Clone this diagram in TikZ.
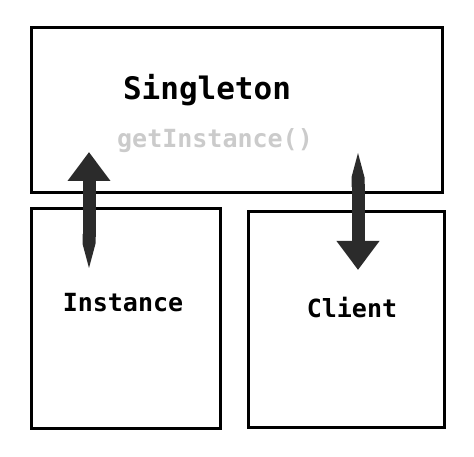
\documentclass[tikz,border=0pt]{standalone}
\usepackage{fontspec}
\setmonofont{DejaVu Sans Mono}
\usepackage{xcolor}
\usetikzlibrary{arrows.meta}
\definecolor{arrowgray}{HTML}{2B2B2B}
\definecolor{methodgray}{HTML}{CBCBCB}

\begin{document}
\begin{tikzpicture}[x=1pt,y=-1pt,
		box/.style={draw=black,line width=3pt,minimum width=#1},
		label/.style={font=\ttfamily\bfseries\fontsize{25}{25}\selectfont,anchor=base},
		flow/.style={arrowgray,line width=13pt,{Triangle Cap[cap angle=30]}-{Triangle[width=41pt,length=29pt]}}]
		\useasboundingbox (0,0) rectangle (474,457);
		% 绘制三个框
		\node[box=411pt,minimum height=165pt] (singleton) at (236.5,110.5) {};
		\node[box=189pt,minimum height=219pt] (instance) at (125.5,318.5) {};
		\node[box=196pt,minimum height=215pt] (client) at (346,319.5) {};
		% 绘制文字
		\node[label,font=\ttfamily\bfseries\fontsize{31}{31}\selectfont] (singletonname) at (207,100) {Singleton};
		\node[label,text=methodgray] (method) at (215,148) {getInstance()};
		\node[label] (instancename) at (123,311) {Instance};
		\node[label] (clientname) at (352,317) {Client};
		% 绘制箭头
		\coordinate (instancetail) at (89,268);
		\coordinate (instancetip) at (89,152);
		\coordinate (clienttail) at (358,153);
		\coordinate (clienttip) at (358,270);
		\draw[flow] (instancetail) -- (instancetip);
		\draw[flow] (clienttail) -- (clienttip);
	\end{tikzpicture}
\end{document}
